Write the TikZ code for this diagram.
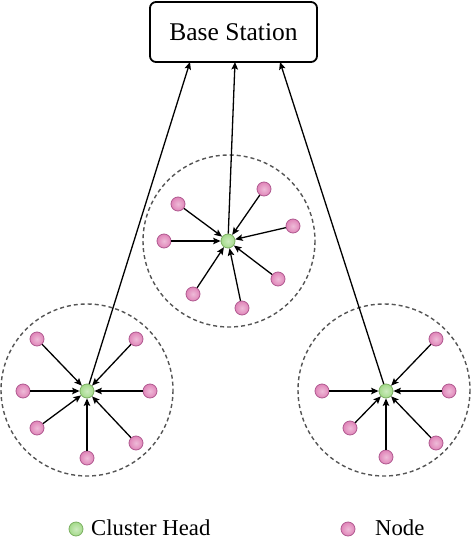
\documentclass[tikz,border=0pt]{standalone}
\usepackage{fontspec}
\setmainfont{Liberation Serif}
\usetikzlibrary{arrows.meta}
\definecolor{pinkfill}{HTML}{E084B8}
\definecolor{pinkdraw}{HTML}{B05A90}
\definecolor{greenfill}{HTML}{A4DA8A}
\definecolor{greendraw}{HTML}{7CB062}
\definecolor{dashgray}{HTML}{555555}
\tikzset{
  sensor/.style={circle, inner sep=0pt, minimum size=14pt, line width=0.8pt, draw=pinkdraw, inner color=pinkfill!55!white, outer color=pinkfill},
  head/.style={circle, inner sep=0pt, minimum size=14pt, line width=0.8pt, draw=greendraw, inner color=greenfill!55!white, outer color=greenfill},
  link/.style={line width=1.3pt, -{Stealth[length=7.5pt,width=6.5pt,inset=1.5pt]}},
  zone/.style={draw=dashgray, line width=1.4pt, dash pattern=on 4pt off 3pt},
  bsbox/.style={draw, line width=1.8pt, rounded corners=6pt, minimum width=167pt, minimum height=60pt, font=\fontsize{25.5}{30}\selectfont},
  legend/.style={font=\fontsize{22.7}{26}\selectfont, anchor=base west, inner sep=0pt}
}
\begin{document}
\begin{tikzpicture}[x=1pt,y=-1pt]
\useasboundingbox (0,0) rectangle (474,541);
% base station
\node[bsbox] (bs) at (233.5,32) {Base Station};
\coordinate (bs1) at (190,62);
\coordinate (bs2) at (235,62);
\coordinate (bs3) at (280,62);
% zones
\draw[zone] (229,241) circle (86);
\draw[zone] (87,390) circle (86);
\draw[zone] (384,390) circle (86);
% middle cluster
\node[head] (chM) at (228,241) {};
\node[sensor] (m1) at (264,189) {};
\node[sensor] (m2) at (178,204) {};
\node[sensor] (m3) at (293,226) {};
\node[sensor] (m4) at (164,241) {};
\node[sensor] (m5) at (278,279) {};
\node[sensor] (m6) at (193,294) {};
\node[sensor] (m7) at (242,308) {};
\foreach \n in {m1,m2,m3,m4,m5,m6,m7} \draw[link] (\n) -- (chM);
% left cluster
\node[head] (chL) at (87,391) {};
\node[sensor] (l1) at (37,339) {};
\node[sensor] (l2) at (136,339) {};
\node[sensor] (l3) at (23,391) {};
\node[sensor] (l4) at (150,391) {};
\node[sensor] (l5) at (37,428) {};
\node[sensor] (l6) at (136,443) {};
\node[sensor] (l7) at (87,458) {};
\foreach \n in {l1,l2,l3,l4,l5,l6,l7} \draw[link] (\n) -- (chL);
% right cluster
\node[head] (chR) at (386,391) {};
\node[sensor] (r1) at (436,339) {};
\node[sensor] (r2) at (322,391) {};
\node[sensor] (r3) at (449,391) {};
\node[sensor] (r4) at (350,428) {};
\node[sensor] (r5) at (436,443) {};
\node[sensor] (r6) at (386,457) {};
\foreach \n in {r1,r2,r3,r4,r5,r6} \draw[link] (\n) -- (chR);
% uplinks
\draw[link] (chL) -- (bs1);
\draw[link] (chM) -- (bs2);
\draw[link] (chR) -- (bs3);
% legend
\node[head] (lgH) at (76,529) {};
\node[legend] (lgHt) at (91,535) {Cluster Head};
\node[sensor] (lgN) at (348,529) {};
\node[legend] (lgNt) at (375,535) {Node};
\end{tikzpicture}
\end{document}
